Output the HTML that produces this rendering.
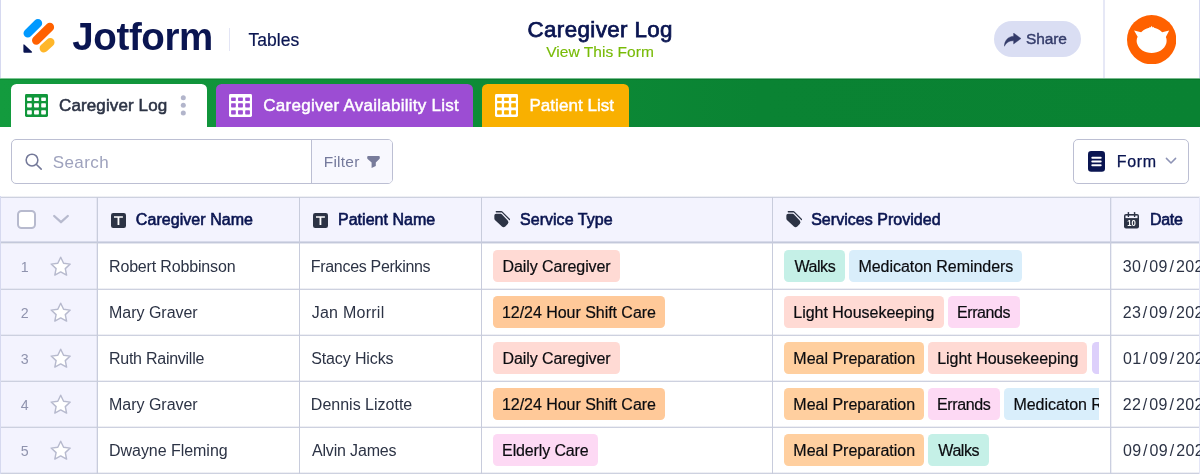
<!DOCTYPE html>
<html lang="en">
<head>
<meta charset="utf-8">
<title>Caregiver Log - Jotform Tables</title>
<style>
*{box-sizing:border-box;margin:0;padding:0}
html,body{width:1200px;height:474px;overflow:hidden;background:#fff}
body{font-family:"Liberation Sans",sans-serif;color:#0a1551;position:relative}
.abs{position:absolute}
.t{position:absolute;white-space:nowrap;line-height:1}
.t i{font-style:normal;margin:0 1.7px}
#hdr{position:absolute;left:0;top:0;width:1200px;height:78px;background:#fff;border-left:1px solid #d6d9f0;border-right:1px solid #d6d9f0}
#hdiv{left:229px;top:28px;width:1px;height:23px;background:#e3e5f5}
#share{left:994px;top:21px;width:87px;height:36px;border-radius:18px;background:#dadef3}
#vsep{left:1103px;top:0;width:2px;height:78px;background:#e6e8f6}
#avatar{left:1127.1px;top:14.8px;width:49.3px;height:49.3px}
#bar{position:absolute;left:0;top:78px;width:1200px;height:49px;background:linear-gradient(to right,#139b3e 0,#0a8333 760px,#098232 100%);}
#bar:before{content:'';position:absolute;left:0;top:0;width:100%;height:2px;background:linear-gradient(to bottom,rgba(255,255,255,.45) 0,rgba(255,255,255,.45) 1px,rgba(0,50,0,.14) 1px,rgba(0,50,0,.14) 2px)}
.tab{position:absolute;top:84px;height:43px;border-radius:5.5px 5.5px 0 0}
#tab1{left:11px;width:196px;background:#fff}
#tab2{left:216px;width:257px;background:#9c4dd3}
#tab3{left:482px;width:147px;background:#f9b000}
#search{position:absolute;left:11px;top:139px;width:382px;height:45px;border:1px solid #bcbfd3;border-radius:5px;background:#fff;overflow:hidden}
#filter{position:absolute;left:299px;top:0;width:82px;height:43px;background:#f8f8fe;border-left:1px solid #bcbfd3}
#formb{position:absolute;left:1073px;top:139px;width:116px;height:45px;border:1px solid #bcbfd3;border-radius:5px;background:#fff}
#thead{position:absolute;left:0;top:196px;width:1200px;height:48px;background:linear-gradient(to bottom,rgba(200,204,220,.3) 0,rgba(200,204,220,.3) 1px,rgba(200,204,220,.9) 1px,rgba(200,204,220,.9) 2px,#f3f3fe 2px,#f3f3fe 45px,#d7daea 45px,#d7daea 46px,#c3c8da 46px,#c3c8da 47px,#e4e6ef 47px,#e4e6ef 48px)}
.vl{position:absolute;top:197px;width:1px;height:277px;background:#c8ccdc}
.hl{position:absolute;left:0;width:1200px;height:2px;background:linear-gradient(to bottom,rgba(200,204,220,.3) 0,rgba(200,204,220,.3) 1px,rgba(200,204,220,.9) 1px,rgba(200,204,220,.9) 2px)}
#idx{position:absolute;left:0;top:243px;width:97px;height:231px;background:#f3f3fe}
.chip{position:absolute;height:31.8px;border-radius:4.5px}
.clip{position:absolute;left:784px;width:315px;height:31.8px;overflow:hidden}
</style>
</head>
<body>
<div id="hdr"></div>
<svg class="abs" style="left:22px;top:17px" width="34" height="38" viewBox="0 0 34 38">
  <g stroke-linecap="round" stroke-width="8.6" fill="none">
    <line x1="5.8" y1="16.2" x2="15.9" y2="6.3" stroke="#0099ff"/>
    <line x1="14.3" y1="23.4" x2="27.8" y2="10.1" stroke="#ff6100"/>
    <line x1="21.9" y1="31.2" x2="28.2" y2="25.3" stroke="#ffb629"/>
  </g>
  <path d="M1.4 28.2 Q1.4 26.6 2.6 27.8 L9.8 34.6 Q10.8 35.7 9.4 35.7 L2.4 35.7 Q1.4 35.7 1.4 34.7 Z" fill="#0a1551"/>
</svg>
<div class="t" id="brand" style="left:72.37px;top:18px;font-size:38.5px;color:#0a1551;font-weight:700;letter-spacing:-0.4px">Jotform</div>
<div class="abs" id="hdiv"></div>
<div class="t" id="tables" style="left:248.39px;top:31.6px;font-size:17.5px;color:#0a1551;letter-spacing:0.04px;-webkit-text-stroke:0.2px #0a1551">Tables</div>
<div class="t" id="title" style="left:527.54px;top:18.7px;font-size:22.3px;color:#0a1551;letter-spacing:0.41px;-webkit-text-stroke:0.75px #0a1551">Caregiver Log</div>
<div class="t" id="view" style="left:546.13px;top:44px;font-size:15.5px;color:#78bb07;letter-spacing:0.05px;-webkit-text-stroke:0.15px #78bb07">View This Form</div>
<div class="abs" id="share"></div>
<svg class="abs" style="left:1004px;top:32.8px" width="17" height="14" viewBox="0 0 17 14"><path d="M9.6 0 L17 5.5 L9.6 11 L9.6 7.8 C5.4 7.7 2.6 9.4 0.3 13.3 C0.6 7.4 4 3.6 9.6 3.2 Z" fill="#343c6a" stroke="#343c6a" stroke-width=".4" stroke-linejoin="round"/></svg>
<div class="t" id="sharet" style="left:1026.03px;top:31.4px;font-size:15.5px;color:#343c6a;letter-spacing:-0.1px;-webkit-text-stroke:0.4px #343c6a">Share</div>
<div class="abs" id="vsep"></div>
<svg class="abs" id="avatar" viewBox="0 0 50 50">
  <circle cx="25" cy="25" r="25" fill="#ff6100"/>
  <path d="M7.2 15.8 L14.3 17.4 C17.5 14.6 20.5 13.4 22.6 13 L23.2 12 L24 12.6 L25 10.8 L26 12.6 L26.8 12 L27.4 13 C29.5 13.4 32.5 14.6 35.7 17.4 L42.8 15.8 L39.4 22.4 C40.4 24.4 40.4 27 39.8 29 C38 35 32 38.6 25 38.6 C18 38.6 12 35 10.2 29 C9.6 27 9.6 24.4 10.8 22 Z" fill="#fff"/>
</svg>

<div id="bar"></div>
<div class="tab" id="tab1"></div>
<div class="tab" id="tab2"></div>
<div class="tab" id="tab3"></div>
<svg class="abs" style="left:24.8px;top:94px" width="23" height="23" viewBox="0 0 23 23"><rect width="23" height="23" rx="1.4" fill="#11973b"/><g fill="#fff"><rect x="2.1" y="3.4" width="4.7" height="3.5" rx=".7"/><rect x="9.05" y="3.4" width="4.85" height="3.5" rx=".7"/><rect x="16.2" y="3.4" width="4.7" height="3.5" rx=".7"/><rect x="2.1" y="9.3" width="4.7" height="4.2" rx=".7"/><rect x="9.05" y="9.3" width="4.85" height="4.2" rx=".7"/><rect x="16.2" y="9.3" width="4.7" height="4.2" rx=".7"/><rect x="2.1" y="16.2" width="4.7" height="4.2" rx=".7"/><rect x="9.05" y="16.2" width="4.85" height="4.2" rx=".7"/><rect x="16.2" y="16.2" width="4.7" height="4.2" rx=".7"/></g></svg>
<div class="t" id="tab1t" style="left:58.99px;top:97.22px;font-size:17px;color:#2c3345;letter-spacing:0.12px;-webkit-text-stroke:0.55px #2c3345">Caregiver Log</div>
<svg class="abs" style="left:180px;top:95px" width="6" height="21" viewBox="0 0 6 21"><g fill="#b2b5cb"><circle cx="3.3" cy="2.7" r="2.5"/><circle cx="3.3" cy="10.3" r="2.5"/><circle cx="3.3" cy="17.9" r="2.5"/></g></svg>
<svg class="abs" style="left:229px;top:94px" width="23" height="23" viewBox="0 0 23 23"><rect width="23" height="23" rx="1.4" fill="#fff"/><g fill="#9c4dd3"><rect x="2.1" y="3.4" width="4.7" height="3.5" rx=".7"/><rect x="9.05" y="3.4" width="4.85" height="3.5" rx=".7"/><rect x="16.2" y="3.4" width="4.7" height="3.5" rx=".7"/><rect x="2.1" y="9.3" width="4.7" height="4.2" rx=".7"/><rect x="9.05" y="9.3" width="4.85" height="4.2" rx=".7"/><rect x="16.2" y="9.3" width="4.7" height="4.2" rx=".7"/><rect x="2.1" y="16.2" width="4.7" height="4.2" rx=".7"/><rect x="9.05" y="16.2" width="4.85" height="4.2" rx=".7"/><rect x="16.2" y="16.2" width="4.7" height="4.2" rx=".7"/></g></svg>
<div class="t" id="tab2t" style="left:263.33px;top:97.22px;font-size:17px;color:#fff;letter-spacing:0.26px;-webkit-text-stroke:0.45px #fff">Caregiver Availability List</div>
<svg class="abs" style="left:495.3px;top:94px" width="23" height="23" viewBox="0 0 23 23"><rect width="23" height="23" rx="1.4" fill="#fff"/><g fill="#f9b000"><rect x="2.1" y="3.4" width="4.7" height="3.5" rx=".7"/><rect x="9.05" y="3.4" width="4.85" height="3.5" rx=".7"/><rect x="16.2" y="3.4" width="4.7" height="3.5" rx=".7"/><rect x="2.1" y="9.3" width="4.7" height="4.2" rx=".7"/><rect x="9.05" y="9.3" width="4.85" height="4.2" rx=".7"/><rect x="16.2" y="9.3" width="4.7" height="4.2" rx=".7"/><rect x="2.1" y="16.2" width="4.7" height="4.2" rx=".7"/><rect x="9.05" y="16.2" width="4.85" height="4.2" rx=".7"/><rect x="16.2" y="16.2" width="4.7" height="4.2" rx=".7"/></g></svg>
<div class="t" id="tab3t" style="left:529.42px;top:97.22px;font-size:17px;color:#fff;letter-spacing:0.05px;-webkit-text-stroke:0.45px #fff">Patient List</div>

<div id="search">
  <div id="filter"></div>
</div>
<svg class="abs" style="left:25px;top:153px" width="18" height="18" viewBox="0 0 18 18"><circle cx="7" cy="7.05" r="5.85" fill="none" stroke="#747999" stroke-width="1.55"/><line x1="11.2" y1="11.25" x2="16.2" y2="16.1" stroke="#747999" stroke-width="1.55" stroke-linecap="round"/></svg>
<div class="t" id="searcht" style="left:52.7px;top:154.32px;font-size:17px;color:#9ea2bd;letter-spacing:0.42px">Search</div>
<div class="t" id="filtert" style="left:323.72px;top:153.9px;font-size:15.5px;color:#757a9c;letter-spacing:0.24px">Filter</div>
<svg class="abs" style="left:367.3px;top:156px" width="13" height="12" viewBox="0 0 13 12"><path d="M1.2 0 H11.8 Q12.8 0 12.8 1 V2 Q12.8 2.6 12.4 3 L8.8 6.6 V10 L4.6 12 V6.6 L0.6 3 Q0.2 2.6 0.2 2 V1 Q0.2 0 1.2 0 Z" fill="#787c9b"/></svg>
<div id="formb"></div>
<svg class="abs" style="left:1088.1px;top:151.2px" width="17" height="20.7" viewBox="0 0 17 20.7"><rect width="17" height="20.7" rx="3.2" fill="#0a1551"/><g fill="#fff"><rect x="3.3" y="5.8" width="10.4" height="2.05" rx="1"/><rect x="3.3" y="9.55" width="10.4" height="2.05" rx="1"/><rect x="3.3" y="13.3" width="10.4" height="2.05" rx="1"/></g></svg>
<div class="t" id="formt" style="left:1116.7px;top:153.9px;font-size:16px;color:#0a1551;letter-spacing:0.67px;-webkit-text-stroke:0.25px #0a1551">Form</div>
<svg class="abs" style="left:1165px;top:157px" width="12" height="8" viewBox="0 0 12 8"><path d="M1.4 1.4 L6 6 L10.6 1.4" fill="none" stroke="#8d93b5" stroke-width="1.5" stroke-linecap="round" stroke-linejoin="round"/></svg>

<div id="idx"></div>
<div id="thead"></div>
<div class="hl" style="top:288px"></div>
<div class="hl" style="top:334px"></div>
<div class="hl" style="top:380px"></div>
<div class="hl" style="top:426px"></div>
<div class="hl" style="top:472px"></div>
<div class="vl" style="left:0;top:196px;height:278px;background:#d6d9ef"></div>
<div class="vl" style="left:96px;width:2px;background:linear-gradient(to right,rgba(200,204,220,.3) 0,rgba(200,204,220,.3) 1px,#c8ccdc 1px)"></div>
<div class="vl" style="left:299px"></div>
<div class="vl" style="left:481px"></div>
<div class="vl" style="left:772px"></div>
<div class="vl" style="left:1110px;width:2px;background:linear-gradient(to right,#cbcfe0 0,#cbcfe0 1px,rgba(200,204,220,.3) 1px)"></div>
<div class="vl" style="left:1199px;background:#e4e6f7"></div>

<div class="abs" style="left:17px;top:210px;width:19px;height:19px;border:2px solid #b7bace;border-radius:4.5px;background:#fff"></div>
<svg class="abs" style="left:52px;top:214px" width="18" height="10" viewBox="0 0 18 10"><path d="M2.2 2 L9 8.2 L15.8 2" fill="none" stroke="#b7bace" stroke-width="2.3" stroke-linecap="round" stroke-linejoin="round"/></svg>

<svg class="abs" style="left:110.5px;top:212.6px" width="15" height="15" viewBox="0 0 15 15"><rect width="15" height="15" rx="2.2" fill="#2c3345"/><path d="M3 3.2 H11.9 V4.8 H8.35 V12 H6.55 V4.8 H3 Z" fill="#fff"/></svg>
<div class="t" id="th1" style="left:135.84px;top:211.82px;font-size:16px;color:#0a1551;letter-spacing:0.05px;-webkit-text-stroke:0.6px #0a1551">Caregiver Name</div>
<svg class="abs" style="left:312.7px;top:212.6px" width="15" height="15" viewBox="0 0 15 15"><rect width="15" height="15" rx="2.2" fill="#2c3345"/><path d="M3 3.2 H11.9 V4.8 H8.35 V12 H6.55 V4.8 H3 Z" fill="#fff"/></svg>
<div class="t" id="th2" style="left:337.95px;top:211.82px;font-size:16px;color:#0a1551;letter-spacing:0.03px;-webkit-text-stroke:0.6px #0a1551">Patient Name</div>
<svg class="abs" style="left:494.3px;top:211.4px" width="16" height="17" viewBox="0 0 16 17"><path d="M0.35 4.6 Q0.35 2.8 2.1 2.8 H6.6 Q7.3 2.8 7.8 3.3 L13.7 9.5 Q15.3 11.2 13.7 12.9 L11.3 15.4 Q9.6 17 7.9 15.5 L0.9 8.9 Q0.35 8.4 0.35 7.6 Z" fill="#2c3345"/><path d="M2.3 0.75 H7.3 Q7.8 0.75 8.2 1.15 L15.6 8.6" fill="none" stroke="#2c3345" stroke-width="1.3" stroke-linecap="round"/></svg>
<div class="t" id="th3" style="left:520.03px;top:211.82px;font-size:16px;color:#0a1551;letter-spacing:0.03px;-webkit-text-stroke:0.6px #0a1551">Service Type</div>
<svg class="abs" style="left:785.5px;top:211.4px" width="16" height="17" viewBox="0 0 16 17"><path d="M0.35 4.6 Q0.35 2.8 2.1 2.8 H6.6 Q7.3 2.8 7.8 3.3 L13.7 9.5 Q15.3 11.2 13.7 12.9 L11.3 15.4 Q9.6 17 7.9 15.5 L0.9 8.9 Q0.35 8.4 0.35 7.6 Z" fill="#2c3345"/><path d="M2.3 0.75 H7.3 Q7.8 0.75 8.2 1.15 L15.6 8.6" fill="none" stroke="#2c3345" stroke-width="1.3" stroke-linecap="round"/></svg>
<div class="t" id="th4" style="left:811.15px;top:211.82px;font-size:16px;color:#0a1551;letter-spacing:0.03px;-webkit-text-stroke:0.6px #0a1551">Services Provided</div>
<svg class="abs" style="left:1124px;top:211.6px" width="15" height="17" viewBox="0 0 15 17"><rect x="0" y="1.9" width="15" height="14.7" rx="2" fill="#2c3345"/><rect x="1.5" y="3.6" width="12" height="2.5" fill="#f3f3fe"/><rect x="3.7" y="0" width="1.4" height="5.1" rx=".6" fill="#2c3345"/><rect x="9.9" y="0" width="1.4" height="5.1" rx=".6" fill="#2c3345"/><text x="3.2" y="14.4" font-family="Liberation Sans, sans-serif" font-size="9.4" font-weight="700" fill="#fff" textLength="8.6" lengthAdjust="spacingAndGlyphs">10</text></svg>
<div class="t" id="th5" style="left:1149.97px;top:211.82px;font-size:16px;color:#0a1551;letter-spacing:-0.28px;-webkit-text-stroke:0.6px #0a1551">Date</div>

<div class="t" id="n0" style="left:14.7px;top:259.91px;font-size:14.2px;color:#8f93ae;width:20px;text-align:center">1</div>
<svg class="abs" style="left:49.9px;top:255.6px" width="21.4" height="20" viewBox="0 0 20 19" preserveAspectRatio="none"><path d="M10 1.2 L12.7 6.9 L18.9 7.7 L14.3 12 L15.5 18.1 L10 15.1 L4.5 18.1 L5.7 12 L1.1 7.7 L7.3 6.9 Z" fill="#fff" stroke="#b7bace" stroke-width="1.35" stroke-linejoin="round"/></svg>
<div class="t" id="a0" style="left:109.01px;top:258.7px;font-size:16px;color:#2c3345;letter-spacing:-0.16px">Robert Robbinson</div>
<div class="t" id="b0" style="left:310.79px;top:258.7px;font-size:16px;color:#2c3345;letter-spacing:-0.31px">Frances Perkinns</div>
<div class="chip" style="left:493.2px;top:250.1px;width:126.9px;background:#ffdad4"><div class="t" id="s0" style="left:9.26px;top:8.6px;font-size:16px;color:#0b0c10;letter-spacing:-0.08px;-webkit-text-stroke:0.2px #0b0c10">Daily Caregiver</div></div>
<div class="clip" style="top:250.1px">
  <div class="chip" style="left:0.2px;top:0;width:60.7px;background:#c5f0e7"><div class="t" id="v0_0" style="left:10.23px;top:8.6px;font-size:16px;color:#0b0c10;letter-spacing:-0.43px;-webkit-text-stroke:0.2px #0b0c10">Walks</div></div>
  <div class="chip" style="left:65.3px;top:0;width:173px;background:#d9eefb"><div class="t" id="v0_1" style="left:9.13px;top:8.6px;font-size:16px;color:#0b0c10;letter-spacing:-0.04px;-webkit-text-stroke:0.2px #0b0c10">Medicaton Reminders</div></div>
</div>
<div class="t" id="d0" style="left:1122.7px;top:258.7px;font-size:16px;color:#2c3345;letter-spacing:0.35px">30<i>/</i>09<i>/</i>2022</div>
<div class="t" id="n1" style="left:14.7px;top:305.91px;font-size:14.2px;color:#8f93ae;width:20px;text-align:center">2</div>
<svg class="abs" style="left:49.9px;top:301.6px" width="21.4" height="20" viewBox="0 0 20 19" preserveAspectRatio="none"><path d="M10 1.2 L12.7 6.9 L18.9 7.7 L14.3 12 L15.5 18.1 L10 15.1 L4.5 18.1 L5.7 12 L1.1 7.7 L7.3 6.9 Z" fill="#fff" stroke="#b7bace" stroke-width="1.35" stroke-linejoin="round"/></svg>
<div class="t" id="a1" style="left:109.01px;top:304.7px;font-size:16px;color:#2c3345;letter-spacing:-0.02px">Mary Graver</div>
<div class="t" id="b1" style="left:311.66px;top:304.7px;font-size:16px;color:#2c3345;letter-spacing:0.26px">Jan Morril</div>
<div class="chip" style="left:493.2px;top:296.1px;width:171.8px;background:#ffc999"><div class="t" id="s1" style="left:8.8px;top:8.6px;font-size:16px;color:#0b0c10;letter-spacing:-0.04px;-webkit-text-stroke:0.2px #0b0c10">12/24 Hour Shift Care</div></div>
<div class="clip" style="top:296.1px">
  <div class="chip" style="left:0.2px;top:0;width:159.4px;background:#ffdad4"><div class="t" id="v1_0" style="left:9.1px;top:8.6px;font-size:16px;color:#0b0c10;letter-spacing:-0.02px;-webkit-text-stroke:0.2px #0b0c10">Light Housekeeping</div></div>
  <div class="chip" style="left:164px;top:0;width:71.8px;background:#fdd9f4"><div class="t" id="v1_1" style="left:8.97px;top:8.6px;font-size:16px;color:#0b0c10;letter-spacing:-0.4px;-webkit-text-stroke:0.2px #0b0c10">Errands</div></div>
</div>
<div class="t" id="d1" style="left:1122.68px;top:304.7px;font-size:16px;color:#2c3345;letter-spacing:0.35px">23<i>/</i>09<i>/</i>2022</div>
<div class="t" id="n2" style="left:14.7px;top:351.91px;font-size:14.2px;color:#8f93ae;width:20px;text-align:center">3</div>
<svg class="abs" style="left:49.9px;top:347.6px" width="21.4" height="20" viewBox="0 0 20 19" preserveAspectRatio="none"><path d="M10 1.2 L12.7 6.9 L18.9 7.7 L14.3 12 L15.5 18.1 L10 15.1 L4.5 18.1 L5.7 12 L1.1 7.7 L7.3 6.9 Z" fill="#fff" stroke="#b7bace" stroke-width="1.35" stroke-linejoin="round"/></svg>
<div class="t" id="a2" style="left:109.01px;top:350.7px;font-size:16px;color:#2c3345;letter-spacing:-0.26px">Ruth Rainville</div>
<div class="t" id="b2" style="left:311.16px;top:350.7px;font-size:16px;color:#2c3345;letter-spacing:-0.12px">Stacy Hicks</div>
<div class="chip" style="left:493.2px;top:342.1px;width:126.9px;background:#ffdad4"><div class="t" id="s2" style="left:9.26px;top:8.6px;font-size:16px;color:#0b0c10;letter-spacing:-0.08px;-webkit-text-stroke:0.2px #0b0c10">Daily Caregiver</div></div>
<div class="clip" style="top:342.1px">
  <div class="chip" style="left:0.2px;top:0;width:139.5px;background:#ffcf9f"><div class="t" id="v2_0" style="left:9.11px;top:8.6px;font-size:16px;color:#0b0c10;-webkit-text-stroke:0.2px #0b0c10">Meal Preparation</div></div>
  <div class="chip" style="left:144.1px;top:0;width:159.4px;background:#ffdad4"><div class="t" id="v2_1" style="left:9.1px;top:8.6px;font-size:16px;color:#0b0c10;letter-spacing:-0.02px;-webkit-text-stroke:0.2px #0b0c10">Light Housekeeping</div></div>
  <div class="chip" style="left:307.9px;top:0;width:130px;background:#ddd0fb"><div class="t" id="v2_2" style="left:9.9px;top:8.6px;font-size:16px;color:#0b0c10;letter-spacing:0.3px;-webkit-text-stroke:0.2px #0b0c10">Companionship</div></div>
</div>
<div class="t" id="d2" style="left:1122.91px;top:350.7px;font-size:16px;color:#2c3345;letter-spacing:0.35px">01<i>/</i>09<i>/</i>2022</div>
<div class="t" id="n3" style="left:14.7px;top:397.91px;font-size:14.2px;color:#8f93ae;width:20px;text-align:center">4</div>
<svg class="abs" style="left:49.9px;top:393.6px" width="21.4" height="20" viewBox="0 0 20 19" preserveAspectRatio="none"><path d="M10 1.2 L12.7 6.9 L18.9 7.7 L14.3 12 L15.5 18.1 L10 15.1 L4.5 18.1 L5.7 12 L1.1 7.7 L7.3 6.9 Z" fill="#fff" stroke="#b7bace" stroke-width="1.35" stroke-linejoin="round"/></svg>
<div class="t" id="a3" style="left:109.01px;top:396.7px;font-size:16px;color:#2c3345;letter-spacing:-0.02px">Mary Graver</div>
<div class="t" id="b3" style="left:310.86px;top:396.7px;font-size:16px;color:#2c3345">Dennis Lizotte</div>
<div class="chip" style="left:493.2px;top:388.1px;width:171.8px;background:#ffc999"><div class="t" id="s3" style="left:8.8px;top:8.6px;font-size:16px;color:#0b0c10;letter-spacing:-0.04px;-webkit-text-stroke:0.2px #0b0c10">12/24 Hour Shift Care</div></div>
<div class="clip" style="top:388.1px">
  <div class="chip" style="left:0.2px;top:0;width:139.5px;background:#ffcf9f"><div class="t" id="v3_0" style="left:9.11px;top:8.6px;font-size:16px;color:#0b0c10;-webkit-text-stroke:0.2px #0b0c10">Meal Preparation</div></div>
  <div class="chip" style="left:144.1px;top:0;width:71.8px;background:#fdd9f4"><div class="t" id="v3_1" style="left:8.97px;top:8.6px;font-size:16px;color:#0b0c10;letter-spacing:-0.4px;-webkit-text-stroke:0.2px #0b0c10">Errands</div></div>
  <div class="chip" style="left:220.3px;top:0;width:173px;background:#d9eefb"><div class="t" id="v3_2" style="left:9.13px;top:8.6px;font-size:16px;color:#0b0c10;letter-spacing:-0.04px;-webkit-text-stroke:0.2px #0b0c10">Medicaton Reminders</div></div>
</div>
<div class="t" id="d3" style="left:1122.68px;top:396.7px;font-size:16px;color:#2c3345;letter-spacing:0.35px">22<i>/</i>09<i>/</i>2022</div>
<div class="t" id="n4" style="left:14.7px;top:443.91px;font-size:14.2px;color:#8f93ae;width:20px;text-align:center">5</div>
<svg class="abs" style="left:49.9px;top:439.6px" width="21.4" height="20" viewBox="0 0 20 19" preserveAspectRatio="none"><path d="M10 1.2 L12.7 6.9 L18.9 7.7 L14.3 12 L15.5 18.1 L10 15.1 L4.5 18.1 L5.7 12 L1.1 7.7 L7.3 6.9 Z" fill="#fff" stroke="#b7bace" stroke-width="1.35" stroke-linejoin="round"/></svg>
<div class="t" id="a4" style="left:109.01px;top:442.7px;font-size:16px;color:#2c3345;letter-spacing:-0.04px">Dwayne Fleming</div>
<div class="t" id="b4" style="left:311.94px;top:442.7px;font-size:16px;color:#2c3345;letter-spacing:-0.16px">Alvin James</div>
<div class="chip" style="left:493.2px;top:434.1px;width:104.8px;background:#fdd9f4"><div class="t" id="s4" style="left:8.91px;top:8.6px;font-size:16px;color:#0b0c10;letter-spacing:-0.13px;-webkit-text-stroke:0.2px #0b0c10">Elderly Care</div></div>
<div class="clip" style="top:434.1px">
  <div class="chip" style="left:0.2px;top:0;width:139.5px;background:#ffcf9f"><div class="t" id="v4_0" style="left:9.11px;top:8.6px;font-size:16px;color:#0b0c10;-webkit-text-stroke:0.2px #0b0c10">Meal Preparation</div></div>
  <div class="chip" style="left:144.1px;top:0;width:60.7px;background:#c5f0e7"><div class="t" id="v4_1" style="left:10.23px;top:8.6px;font-size:16px;color:#0b0c10;letter-spacing:-0.43px;-webkit-text-stroke:0.2px #0b0c10">Walks</div></div>
</div>
<div class="t" id="d4" style="left:1122.91px;top:442.7px;font-size:16px;color:#2c3345;letter-spacing:0.35px">09<i>/</i>09<i>/</i>2022</div>
</body>
</html>
